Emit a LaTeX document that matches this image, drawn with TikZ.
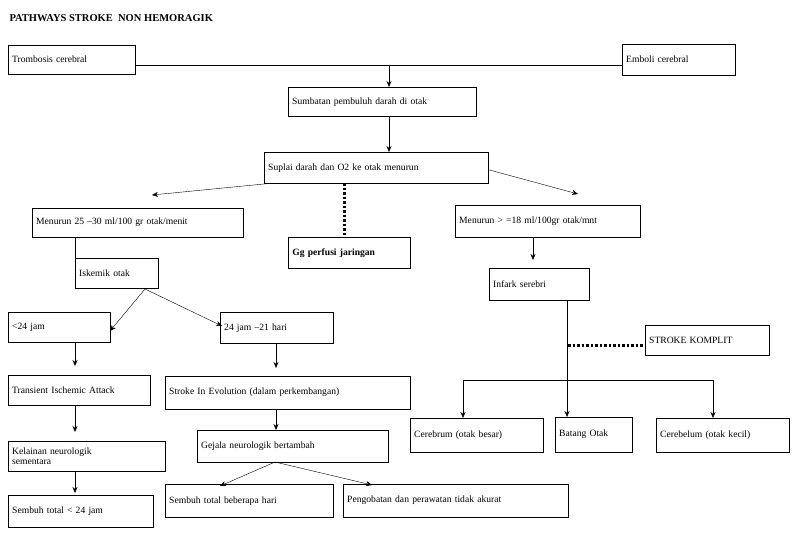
\documentclass[tikz,border=0pt]{standalone}
\usepackage{fontspec}
\setmainfont{Liberation Serif}
\usetikzlibrary{arrows.meta}
\newcommand\bx[6]{\node[box,minimum width=#4pt,minimum height=#5pt,text width=#4pt-8pt] (#1) at (#2,#3) {#6};}
\tikzset{box/.style={draw,anchor=north west,align=left,inner xsep=4pt,inner ysep=1pt,font=\fontsize{9.6}{10}\selectfont},
arr/.style={-{Stealth[length=6pt,width=5pt]}},
dots/.style={line width=3pt,dash pattern=on 2.5pt off 2pt}}
\begin{document}
\begin{tikzpicture}[x=1pt,y=-1pt]
\useasboundingbox (0,0) rectangle (809,543);
\node[anchor=west,font=\fontsize{10.5}{11}\selectfont\bfseries] (title) at (6,18) {PATHWAYS STROKE\ \ NON HEMORAGIK};
\bx{tromb}{8}{45}{127}{29}{Trombosis cerebral}
\bx{emb}{622}{44}{113}{31}{Emboli cerebral}
\bx{sumb}{288}{87}{188}{29}{Sumbatan pembuluh darah di otak}
\bx{supl}{264}{152}{224}{31}{Suplai darah dan O2 ke otak menurun}
\bx{men1}{32}{208}{211}{29}{Menurun 25 --30 ml/100\ gr otak/menit}
\node[box,minimum width=122pt,minimum height=31pt,text width=114pt,line width=0.8pt,font=\fontsize{9.6}{10}\selectfont\bfseries] (gg) at (288,237) {Gg perfusi jaringan};
\bx{men2}{455}{205}{185}{32}{Menurun > =18 ml/100gr otak/mnt}
\bx{isk}{75}{258}{83}{30}{Iskemik otak}
\bx{infark}{489}{268}{100}{32}{Infark serebri}
\bx{lt}{8}{312}{102}{30}{<24 jam}
\bx{gt}{220}{312}{113}{31}{24 jam --21 hari}
\bx{tia}{8}{375}{142}{30}{Transient Ischemic Attack}
\bx{kel}{8}{441}{157}{30}{Kelainan neurologik\\sementara}
\bx{semb1}{8}{495}{145}{32}{Sembuh total < 24 jam}
\bx{sie}{165}{376}{245}{33}{Stroke In Evolution (dalam perkembangan)}
\bx{gej}{197}{430}{191}{32}{Gejala neurologik bertambah}
\bx{semb2}{165}{484}{168}{33}{Sembuh total\ beberapa hari}
\bx{peng}{343}{484}{225}{33}{Pengobatan dan perawatan tidak akurat}
\bx{sk}{645}{325}{124}{30}{STROKE KOMPLIT}
\bx{cbr}{410}{418}{133}{34}{Cerebrum (otak besar)}
\bx{bat}{555}{417}{77}{35}{Batang Otak}
\bx{cbl}{656}{418}{133}{34}{Cerebelum (otak kecil)}
% connectors
\draw (tromb.east |- 0,65) -- (emb.west |- 0,65);
\coordinate (j1) at (389,65);
\draw[arr] (j1) -- (sumb.north -| j1);
\draw[arr] (sumb.south -| j1) -- (supl.north -| j1);
\draw[arr] (supl.south west) ++(6,0) -- (152,195);
\draw[arr] (supl.east) ++(0,2) -- (578,194);
\draw[dots] (344,183) -- (gg.north -| 344,0);
\draw (men1.south -| 75,0) -- (isk.north west);
\draw[arr] (men2.south -| 533,0) -- (533,260);
\draw[arr] (145,289) -- (110,331);
\draw[arr] (145,289) -- (222,326);
\draw[arr] (lt.south -| 75,0) -- (75,366);
\draw[arr] (tia.south -| 75,0) -- (75,432);
\draw[arr] (kel.south -| 75,0) -- (75,493);
\draw[arr] (gt.south -| 276,0) -- (276,368);
\draw[arr] (sie.south -| 276,0) -- (276,430);
\draw[arr] (275,462) -- (220,486);
\draw[arr] (275,462) -- (372,485);
\draw[dots] (568,345) -- (sk.west |- 0,345);
\draw[arr] (infark.south -| 567,0) -- (bat.north -| 567,0);
\draw (463,380) -- (713,380);
\draw[arr] (463,380) -- (cbr.north -| 463,0);
\draw[arr] (713,380) -- (cbl.north -| 713,0);
\end{tikzpicture}
\end{document}
